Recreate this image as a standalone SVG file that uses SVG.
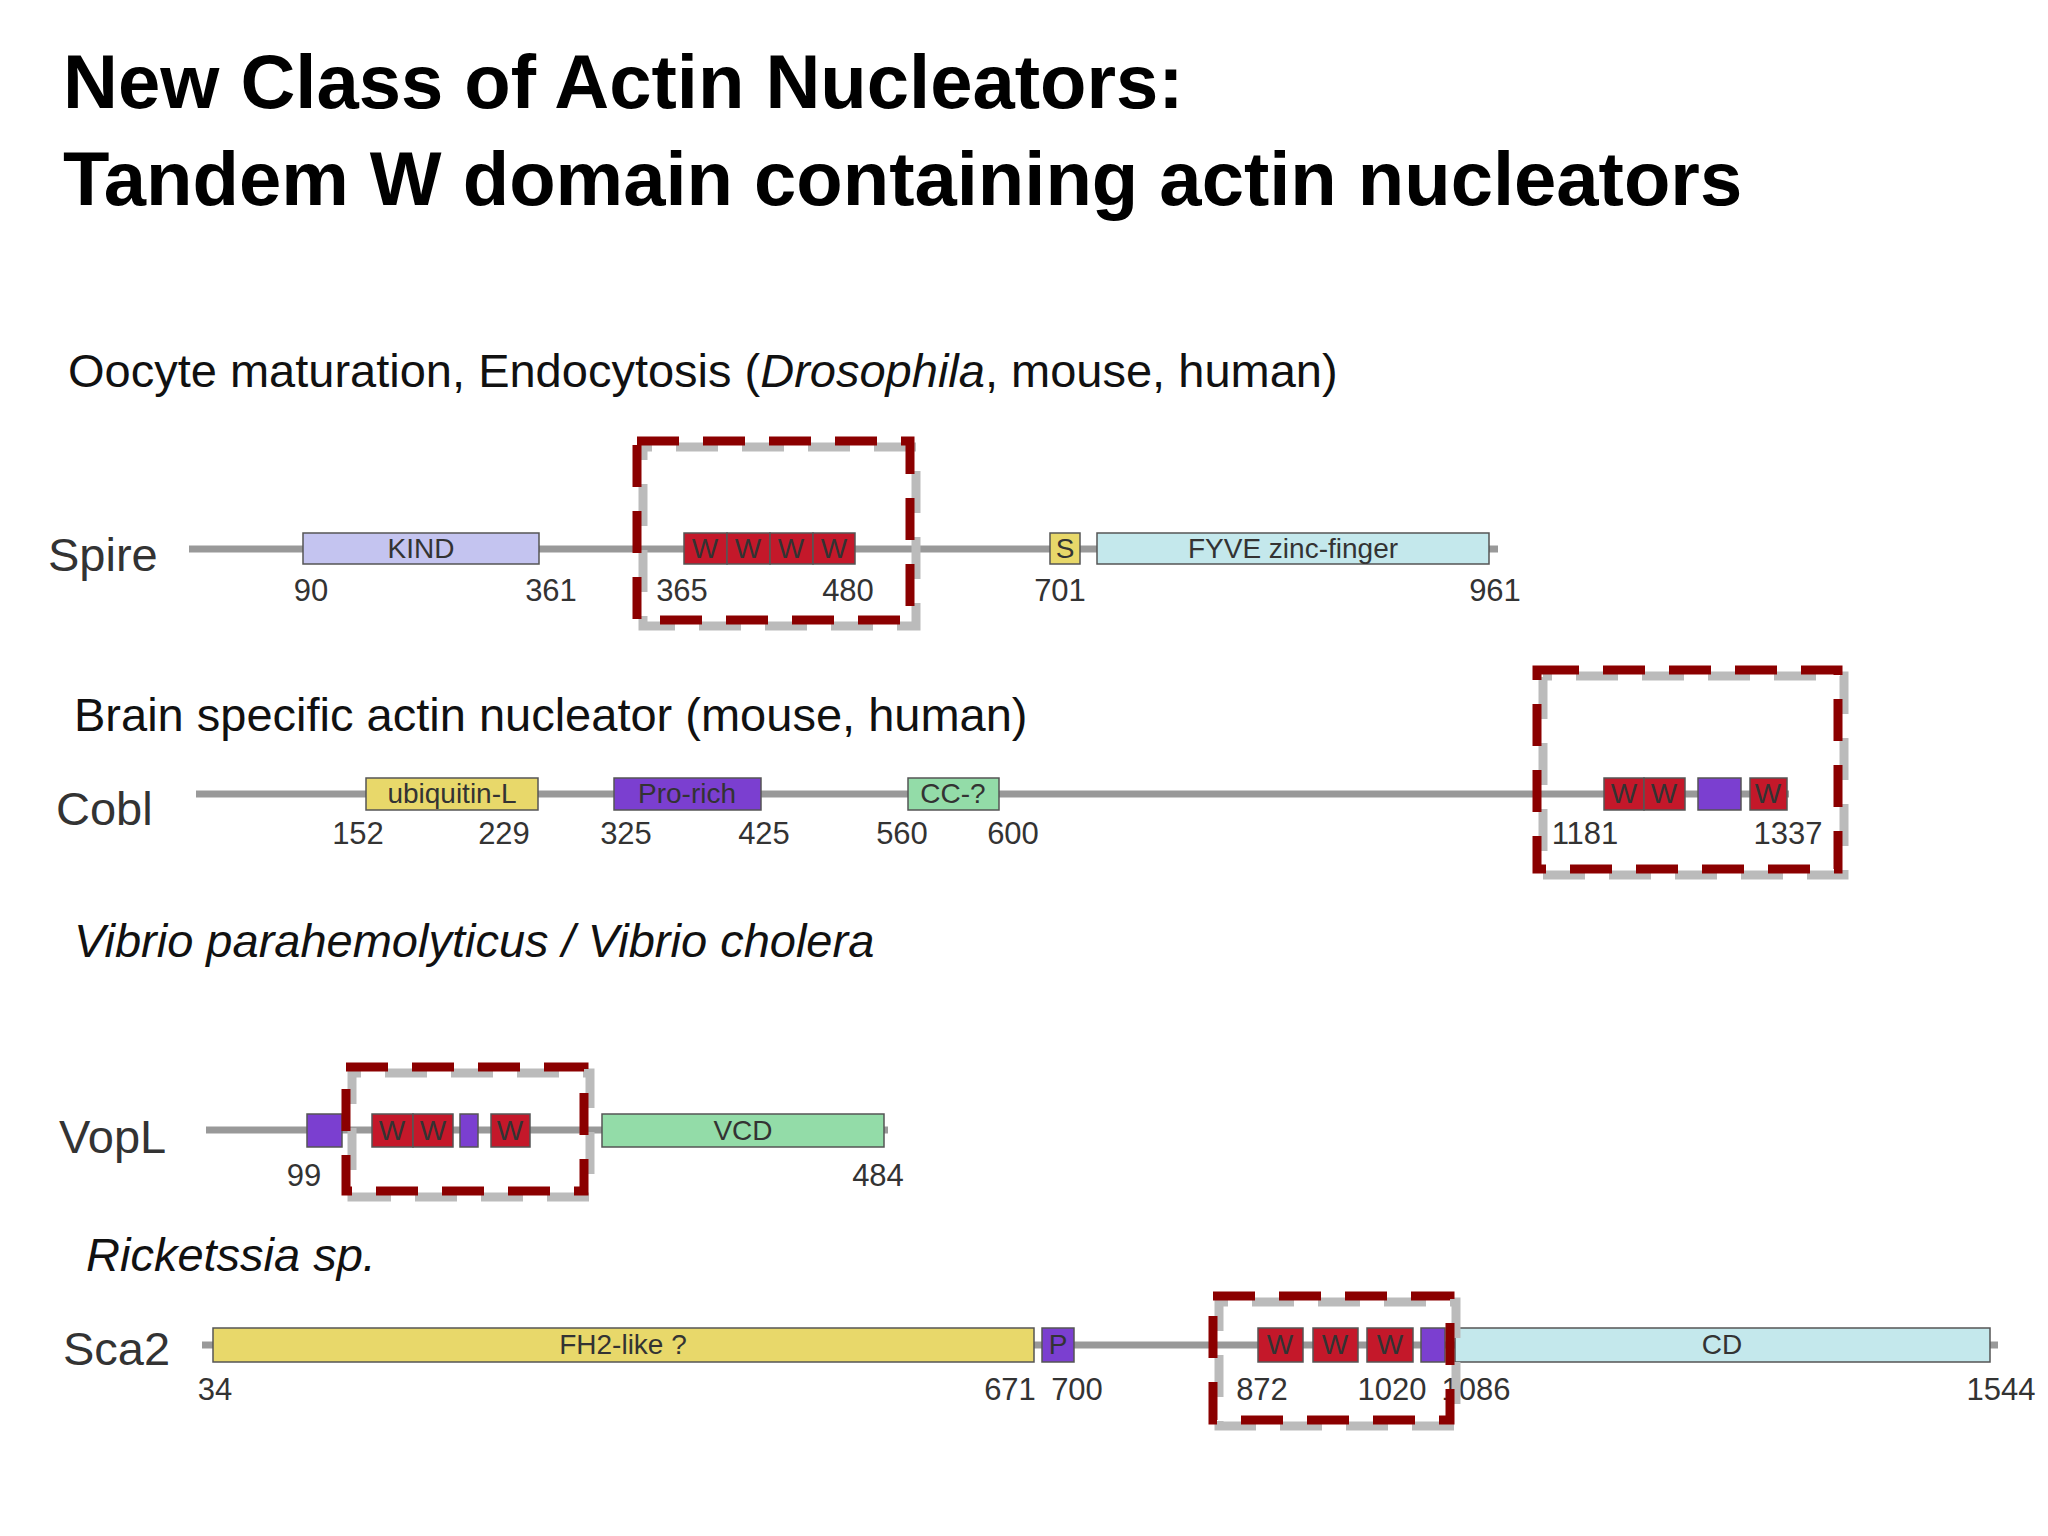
<svg xmlns="http://www.w3.org/2000/svg" width="2048" height="1536" viewBox="0 0 2048 1536">
<style>
text{font-family:"Liberation Sans",Arial,sans-serif}
.t{font-size:76px;font-weight:bold;fill:#000}
.s{font-size:47px;fill:#111}
.n{font-size:47px;fill:#333}
.num{font-size:31px;fill:#333;text-anchor:middle}
.bl{font-size:28px;fill:#333;text-anchor:middle}
.ln{stroke:#999;stroke-width:7}
.d{stroke:#555;stroke-width:1.5}
.w{fill:#c4182a}
.p{fill:#7b3fd0}
.kind{fill:#c4c4f0}
.y{fill:#e8d86a}
.g{fill:#93dca8}
.c{fill:#c4e8ec}
.box{fill:none;stroke:#8b0000;stroke-width:9;stroke-dasharray:42 24}
.sh{fill:none;stroke:#bbb;stroke-width:9;stroke-dasharray:42 24;stroke-dashoffset:-33}
</style>
<rect width="2048" height="1536" fill="#fff"/>
<text class="t" x="63" y="108">New Class of Actin Nucleators:</text>
<text class="t" x="63" y="205">Tandem W domain containing actin nucleators</text>
<text class="s" x="68" y="387">Oocyte maturation, Endocytosis (<tspan font-style="italic">Drosophila</tspan>, mouse, human)</text>
<text class="s" x="74" y="731">Brain specific actin nucleator (mouse, human)</text>
<text class="s" x="74" y="957" font-style="italic">Vibrio parahemolyticus / Vibrio cholera</text>
<text class="s" x="86" y="1271" font-style="italic">Ricketssia sp.</text>
<g id="spire">
<text class="n" x="48" y="571">Spire</text>
<line class="ln" x1="189" y1="549" x2="1498" y2="549"/>
<rect class="kind d" x="303" y="533" width="236" height="31"/><text class="bl" x="421" y="558">KIND</text>
<rect class="w d" x="684" y="533" width="43" height="31"/><rect class="w d" x="727" y="533" width="43" height="31"/><rect class="w d" x="770" y="533" width="43" height="31"/><rect class="w d" x="813" y="533" width="42" height="31"/>
<text class="bl" x="705" y="558">W</text><text class="bl" x="748" y="558">W</text><text class="bl" x="791" y="558">W</text><text class="bl" x="834" y="558">W</text>
<rect class="y d" x="1050" y="533" width="30" height="31"/><text class="bl" x="1065" y="558">S</text>
<rect class="c d" x="1097" y="533" width="392" height="31"/><text class="bl" x="1293" y="558">FYVE zinc-finger</text>
<text class="num" x="311" y="601">90</text><text class="num" x="551" y="601">361</text><text class="num" x="682" y="601">365</text><text class="num" x="848" y="601">480</text><text class="num" x="1060" y="601">701</text><text class="num" x="1495" y="601">961</text>
<rect class="sh" x="643" y="447" width="273" height="179"/><rect class="box" x="637" y="441" width="273" height="179"/>
</g>
<g id="cobl">
<text class="n" x="56" y="825">Cobl</text>
<line class="ln" x1="196" y1="794" x2="1789" y2="794"/>
<rect class="y d" x="366" y="778" width="172" height="32"/><text class="bl" x="452" y="803">ubiquitin-L</text>
<rect class="p d" x="614" y="778" width="147" height="32"/><text class="bl" x="687" y="803">Pro-rich</text>
<rect class="g d" x="908" y="778" width="91" height="32"/><text class="bl" x="953" y="803">CC-?</text>
<rect class="w d" x="1604" y="778" width="40" height="32"/><rect class="w d" x="1644" y="778" width="41" height="32"/><rect class="p d" x="1698" y="778" width="43" height="32"/><rect class="w d" x="1750" y="778" width="37" height="32"/>
<text class="bl" x="1624" y="803">W</text><text class="bl" x="1664" y="803">W</text><text class="bl" x="1768" y="803">W</text>
<text class="num" x="358" y="844">152</text><text class="num" x="504" y="844">229</text><text class="num" x="626" y="844">325</text><text class="num" x="764" y="844">425</text><text class="num" x="902" y="844">560</text><text class="num" x="1013" y="844">600</text><text class="num" x="1585" y="844">1181</text><text class="num" x="1788" y="844">1337</text>
<rect class="sh" x="1543" y="676" width="301" height="199"/><rect class="box" x="1537" y="670" width="301" height="199"/>
</g>
<g id="vopl">
<text class="n" x="59" y="1153">VopL</text>
<line class="ln" x1="206" y1="1130" x2="888" y2="1130"/>
<rect class="p d" x="307" y="1114" width="35" height="33"/>
<rect class="w d" x="372" y="1114" width="41" height="33"/><rect class="w d" x="413" y="1114" width="40" height="33"/><rect class="p d" x="460" y="1114" width="18" height="33"/><rect class="w d" x="491" y="1114" width="39" height="33"/>
<text class="bl" x="392" y="1140">W</text><text class="bl" x="433" y="1140">W</text><text class="bl" x="510" y="1140">W</text>
<rect class="g d" x="602" y="1114" width="282" height="33"/><text class="bl" x="743" y="1140">VCD</text>
<text class="num" x="304" y="1186">99</text><text class="num" x="878" y="1186">484</text>
<rect class="sh" x="352" y="1073" width="238" height="124"/><rect class="box" x="346" y="1067" width="238" height="124"/>
</g>
<g id="sca2">
<text class="n" x="63" y="1365">Sca2</text>
<line class="ln" x1="202" y1="1345" x2="1998" y2="1345"/>
<rect class="y d" x="213" y="1328" width="821" height="34"/><text class="bl" x="623" y="1354">FH2-like ?</text>
<rect class="p d" x="1042" y="1328" width="32" height="34"/><text class="bl" x="1058" y="1354">P</text>
<rect class="w d" x="1258" y="1328" width="45" height="34"/><rect class="w d" x="1313" y="1328" width="45" height="34"/><rect class="w d" x="1367" y="1328" width="46" height="34"/><rect class="p d" x="1421" y="1328" width="24" height="34"/>
<text class="bl" x="1280" y="1354">W</text><text class="bl" x="1335" y="1354">W</text><text class="bl" x="1390" y="1354">W</text>
<rect class="c d" x="1455" y="1328" width="535" height="34"/><text class="bl" x="1722" y="1354">CD</text>
<text class="num" x="215" y="1400">34</text><text class="num" x="1010" y="1400">671</text><text class="num" x="1077" y="1400">700</text><text class="num" x="1262" y="1400">872</text><text class="num" x="1392" y="1400">1020</text><text class="num" x="1476" y="1400">1086</text><text class="num" x="2001" y="1400">1544</text>
<rect class="sh" x="1219" y="1302" width="237" height="124"/><rect class="box" x="1213" y="1296" width="237" height="124"/>
</g>
<g id="connectors"></g>
</svg>
